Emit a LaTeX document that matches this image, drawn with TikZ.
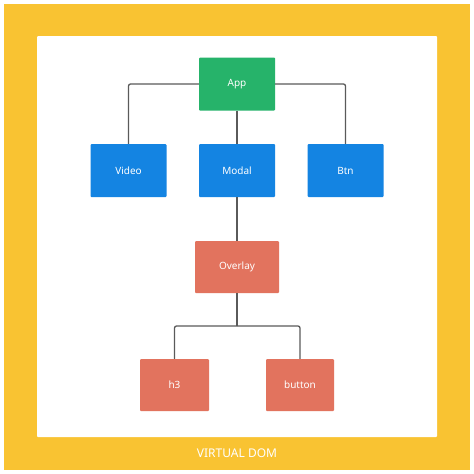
\documentclass[tikz,border=0pt]{standalone}
\usepackage{fontspec}
\setmainfont{Noto Sans}
\usepackage{tikz}
\usetikzlibrary{positioning}

\definecolor{frameyellow}{HTML}{F9C332}
\definecolor{appgreen}{HTML}{26B36A}
\definecolor{childblue}{HTML}{1484E2}
\definecolor{overlayred}{HTML}{E2735E}
\definecolor{linkgray}{HTML}{5A5A5A}

\tikzset{
    comp/.style={rectangle, rounded corners=1pt, text=white, font=\fontsize{10}{12}\selectfont,
        minimum width=76pt, minimum height=53pt, inner sep=0pt},
    link/.style={draw=linkgray, line width=1.3pt, rounded corners=2pt}
}

\begin{document}
\begin{tikzpicture}[x=1pt, y=-1pt]
            % Page size, then the yellow frame and the white sheet inside it.
            \useasboundingbox (0,0) rectangle (474,474);
            \fill[frameyellow] (4,4) rectangle (470,470);
            \fill[white, rounded corners=1pt] (37,36) rectangle (437,437);

            % The component boxes, placed at fixed positions.
            \node[comp, fill=appgreen] (app) at (237,84) {App};
            \node[comp, fill=childblue] (video) at (128.5,170.5) {Video};
            \node[comp, fill=childblue] (modal) at (237,170.5) {Modal};
            \node[comp, fill=childblue] (btn) at (345.5,170.5) {Btn};
            \node[comp, fill=overlayred, minimum width=84pt, minimum height=52pt] (overlay) at (237,267) {Overlay};
            \node[comp, fill=overlayred, minimum width=69pt, minimum height=52pt] (hthree) at (174.5,385) {h3};
            \node[comp, fill=overlayred, minimum width=68pt, minimum height=52pt] (button) at (300,385) {button};

            % Tree connectors.
            \draw[link] (app.west) -| (video.north);
            \draw[link] (app.south) -- (modal.north);
            \draw[link] (app.east) -| (btn.north);
            \draw[link] (modal.south) -- (overlay.north);
            \coordinate (split) at (237,326);
            \draw[link] (overlay.south) -- (split);
            \draw[link] (split) -| (hthree.north);
            \draw[link] (split) -| (button.north);

            % Caption in the bottom band of the frame.
            \node[text=white, font=\fontsize{12}{14}\selectfont] (caption) at (237,453) {VIRTUAL DOM};
        \end{tikzpicture}
\end{document}
